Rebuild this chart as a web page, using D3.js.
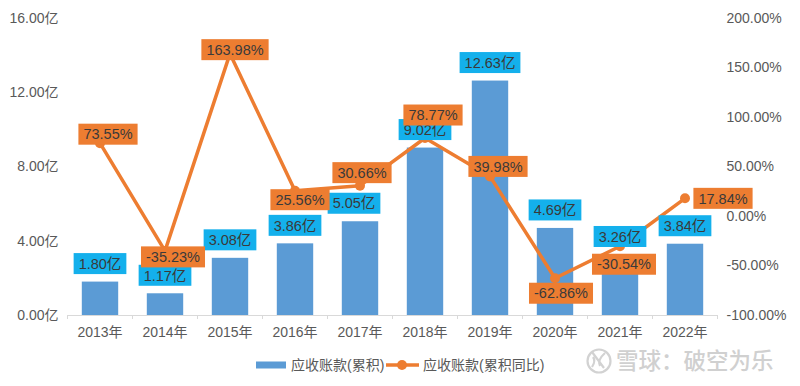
<!DOCTYPE html>
<html>
<head>
<meta charset="utf-8">
<script src="https://cdn.jsdelivr.net/npm/d3@7/dist/d3.min.js"></script>
<style>
  html, body { margin: 0; padding: 0; background: #fff; }
  svg text { font-family: "Liberation Sans", Arial, "Noto Sans CJK SC", sans-serif; }
</style>
</head>
<body>
<div id="chart"></div>
<script>
// chart data
var years = ["2013年", "2014年", "2015年", "2016年", "2017年", "2018年", "2019年", "2020年", "2021年", "2022年"];
var receivables = [1.80, 1.17, 3.08, 3.86, 5.05, 9.02, 12.63, 4.69, 3.26, 3.84];   // 亿
var yoyGrowth = [73.55, -35.23, 163.98, 25.56, 30.66, 78.77, 39.98, -62.86, -30.54, 17.84]; // %
var leftTicks = [0, 4, 8, 12, 16];
var rightTicks = [-100, -50, 0, 50, 100, 150, 200];
var seriesNames = ["应收账款(累积)", "应收账款(累积同比)"];

// where the (hand placed) data labels sit relative to their point
var barLabelNudge = [0, 0, 0, 0, -6, 0, 0, 0, 0, 0];
var lineLabelNudge = [[8, -9], [8, 6], [5, -4], [5, 9], [2, -13], [8, -23], [8, -10], [6, 15], [4, 18], [38, 0]];

var width = 800, height = 386;
var barColor = "#5B9BD5", lineColor = "#ED7D31", barTagColor = "#14B0EC", textColor = "#595959";

// plain hyphen for negatives, like the original
var fmt2 = d3.formatLocale({decimal: ".", thousands: ",", grouping: [3], currency: ["", ""], minus: "-"}).format(".2f");

var svg = d3.select("#chart").append("svg")
    .attr("width", width)
    .attr("height", height);

var x = d3.scaleBand()
    .domain(years)
    .range([67.5, 717.5])
    .paddingInner(0.44)
    .paddingOuter(0.22);

var yLeft = d3.scaleLinear().domain([0, 16]).range([315, 18]);
var yRight = d3.scaleLinear().domain([-100, 200]).range([315, 18]);

var cx = function(d, i) { return x(years[i]) + x.bandwidth() / 2; };

// left axis
var gl = svg.append("g")
    .attr("transform", "translate(67.5,0)")
    .call(d3.axisLeft(yLeft).tickValues(leftTicks).tickSize(0).tickPadding(9)
        .tickFormat(function(d) { return fmt2(d) + "亿"; }));
gl.select(".domain").remove();

// right axis
var gr = svg.append("g")
    .attr("transform", "translate(717.5,0)")
    .call(d3.axisRight(yRight).tickValues(rightTicks).tickSize(0).tickPadding(9)
        .tickFormat(function(d) { return fmt2(d) + "%"; }));
gr.select(".domain").remove();

// bottom axis, ticks between categories like excel
var gb = svg.append("g")
    .attr("transform", "translate(0,315)")
    .call(d3.axisBottom(x).tickSize(0).tickPadding(12));
gb.select(".domain").attr("stroke", "#d9d9d9");
gb.selectAll(".boundary")
    .data(d3.range(years.length + 1))
    .enter().append("line")
    .attr("x1", function(i) { return 67.5 + i * x.step(); })
    .attr("x2", function(i) { return 67.5 + i * x.step(); })
    .attr("y1", 0).attr("y2", 4)
    .attr("stroke", "#d9d9d9");

svg.selectAll(".tick text")
    .attr("fill", textColor)
    .style("font-size", "14px");

// bars
svg.selectAll(".bar")
    .data(receivables)
    .enter().append("rect")
    .attr("class", "bar")
    .attr("x", function(d, i) { return x(years[i]); })
    .attr("y", function(d) { return yLeft(d); })
    .attr("width", x.bandwidth())
    .attr("height", function(d) { return yLeft(0) - yLeft(d); })
    .attr("fill", barColor);

// line + markers
var line = d3.line()
    .x(cx)
    .y(function(d) { return yRight(d); });

svg.append("path")
    .datum(yoyGrowth)
    .attr("d", line)
    .attr("fill", "none")
    .attr("stroke", lineColor)
    .attr("stroke-width", 3.5)
    .attr("stroke-linejoin", "round");

svg.selectAll(".dot")
    .data(yoyGrowth)
    .enter().append("circle")
    .attr("cx", cx)
    .attr("cy", function(d) { return yRight(d); })
    .attr("r", 5)
    .attr("fill", lineColor);

// boxed data labels
function tag(g, cxv, cyv, txt, fill) {
    var t = g.append("text")
        .attr("x", cxv)
        .attr("y", cyv)
        .attr("dy", "0.36em")
        .attr("text-anchor", "middle")
        .attr("fill", "#3a3a3a")
        .style("font-size", "14.5px")
        .text(txt);
    var w = t.node().getComputedTextLength() + 10;
    g.insert("rect", "text")
        .attr("x", cxv - w / 2)
        .attr("y", cyv - 10.5)
        .attr("width", w)
        .attr("height", 21)
        .attr("fill", fill);
}

receivables.forEach(function(d, i) {
    var g = svg.append("g");
    tag(g, cx(d, i) + barLabelNudge[i], yLeft(d) - 18, fmt2(d) + "亿", barTagColor);
});

yoyGrowth.forEach(function(d, i) {
    var g = svg.append("g");
    tag(g, cx(d, i) + lineLabelNudge[i][0], yRight(d) + lineLabelNudge[i][1], fmt2(d) + "%", lineColor);
});

// legend
var lg = svg.append("g");
lg.append("rect").attr("x", 256).attr("y", 361.5).attr("width", 30).attr("height", 7).attr("fill", barColor);
lg.append("text").attr("x", 291).attr("y", 365).attr("dy", "0.36em")
    .attr("fill", textColor).style("font-size", "14px").text(seriesNames[0]);
lg.append("line").attr("x1", 386).attr("x2", 419).attr("y1", 365).attr("y2", 365)
    .attr("stroke", lineColor).attr("stroke-width", 3.5);
lg.append("circle").attr("cx", 402).attr("cy", 365).attr("r", 5).attr("fill", lineColor);
lg.append("text").attr("x", 423).attr("y", 365).attr("dy", "0.36em")
    .attr("fill", textColor).style("font-size", "14px").text(seriesNames[1]);

// watermark
var wm = svg.append("g").attr("fill", "none").attr("stroke", "#d2d2d2").attr("stroke-width", 2.2);
wm.append("circle").attr("cx", 599).attr("cy", 361).attr("r", 11.5);
wm.append("path").attr("d", "M592,352 L604,368 M605,353 Q597,360 600,366 M592,367 Q596,361 593,357");
svg.append("text")
    .attr("x", 616)
    .attr("y", 361)
    .attr("dy", "0.36em")
    .attr("fill", "#d0d0d0")
    .style("font-size", "22.5px")
    .style("font-weight", "500")
    .style("font-family", "'Noto Sans CJK SC', sans-serif")
    .text("雪球：破空为乐");
</script>
</body>
</html>
